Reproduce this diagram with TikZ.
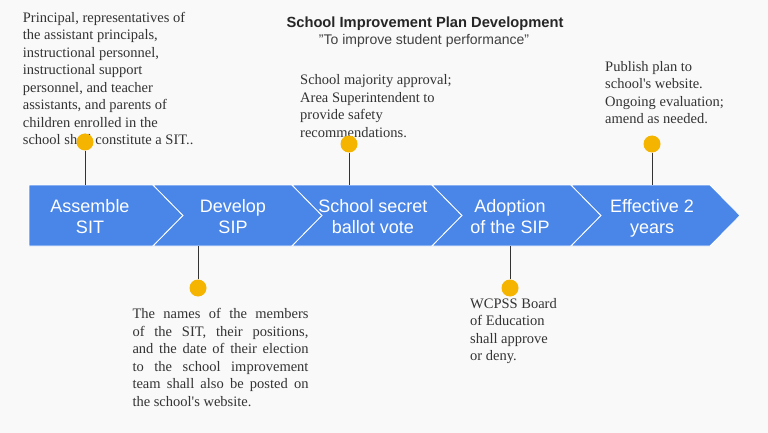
\documentclass[tikz,border=0pt]{standalone}
\usepackage{fontspec}
\setmainfont{Liberation Serif}
\setsansfont{Liberation Sans}
\usepackage{xcolor}
\usepackage{tikz}
\usetikzlibrary{positioning}

\definecolor{stepblue}{HTML}{4A86E8}
\definecolor{dotgold}{HTML}{F4B400}
\definecolor{notegray}{HTML}{333333}
\definecolor{paper}{HTML}{F9F9F9}

\begin{document}
\begin{tikzpicture}[x=1pt,y=-1pt,
% Chevron and label style
    chevron/.style={fill=stepblue,draw=white,line width=0.8pt,line join=miter},
    stage/.style={text=white,font=\sffamily\fontsize{18}{21.5}\selectfont,
		align=center,inner sep=0pt},
% Dots, stems and notes style
    dot/.style={circle,fill=dotgold,minimum size=17pt,inner sep=0pt},
    stem/.style={draw=notegray,line width=0.8pt},
    note/.style={anchor=north west,inner sep=0pt,text=notegray,
		font=\fontsize{14.5}{17.5}\selectfont,align=left},
    title/.style={anchor=base,inner sep=0pt,text=black!85,
		font=\sffamily\bfseries\fontsize{14.7}{17}\selectfont},
    ]
%% Page
    \fill[paper] (0,0) rectangle (768,433);
%% Heading
    \node (head) [title] at (425,27.3) {School Improvement Plan Development};
    \node (motto) [title,font=\sffamily\fontsize{14}{17}\selectfont,text=black!75]
	at (424,44.3) {"To improve student performance"};
%% Draw chevrons
    \path[chevron] (29,185) -- (153,185) -- (183,215.5) -- (153,246) -- (29,246) -- cycle;
    \path[chevron] (153,185) -- (292,185) -- (322,215.5) -- (292,246) -- (153,246)
	-- (183,215.5) -- cycle;
    \path[chevron] (292,185) -- (432,185) -- (462,215.5) -- (432,246) -- (292,246)
	-- (322,215.5) -- cycle;
    \path[chevron] (432,185) -- (571,185) -- (601,215.5) -- (571,246) -- (432,246)
	-- (462,215.5) -- cycle;
    \path[chevron] (571,185) -- (710,185) -- (740,215.5) -- (710,246) -- (571,246)
	-- (601,215.5) -- cycle;
    \coordinate (bandtop) at (0,185);
    \coordinate (bandbot) at (0,246);
%% Stage labels
    \node (s1) [stage] at (90,218.5)  {\strut Assemble\\SIT\strut};
    \node (s2) [stage] at (233,218.5) {\strut Develop\\SIP\strut};
    \node (s3) [stage] at (373,218.5) {\strut School secret\\ballot vote\strut};
    \node (s4) [stage] at (510,218.5) {\strut Adoption\\of the SIP\strut};
    \node (s5) [stage] at (652,218.5) {\strut Effective 2\\years\strut};
%% Notes
    \node (n1) [note] at (22.7,11.8) {Principal, representatives of\\
	the assistant principals,\\ instructional personnel,\\
	instructional support\\ personnel, and teacher\\
	assistants, and parents of\\ children enrolled in the\\
	school shall constitute a SIT..};
    \node (n2) [note,text width=176pt,align=justify] at (132.3,308.4)
	{The names of the members\linebreak of the SIT, their positions,\linebreak
	and the date of their election\linebreak to the school improvement\linebreak
	team shall also be posted on\linebreak the school\textquotesingle s website.};
    \node (n3) [note] at (300,74.4) {School majority approval;\\
	Area Superintendent to\\ provide safety\\ recommendations.};
    \node (n4) [note] at (470,297.8) {WCPSS Board\\ of Education\\
	shall approve\\ or deny.};
    \node (n5) [note] at (605,61.1) {Publish plan to\\ school\textquotesingle s website.\\
	Ongoing evaluation;\\ amend as needed.};
%% Stems and dots
    \node (d1) [dot] at (85,142)  {};
    \node (d2) [dot] at (198,288) {};
    \node (d3) [dot] at (349,144) {};
    \node (d4) [dot] at (510,288) {};
    \node (d5) [dot] at (652,144) {};
    \draw[stem] (d1.south) -- (d1 |- bandtop);
    \draw[stem] (d2.north) -- (d2 |- bandbot);
    \draw[stem] (d3.south) -- (d3 |- bandtop);
    \draw[stem] (d4.north) -- (d4 |- bandbot);
    \draw[stem] (d5.south) -- (d5 |- bandtop);
\end{tikzpicture}
\end{document}
